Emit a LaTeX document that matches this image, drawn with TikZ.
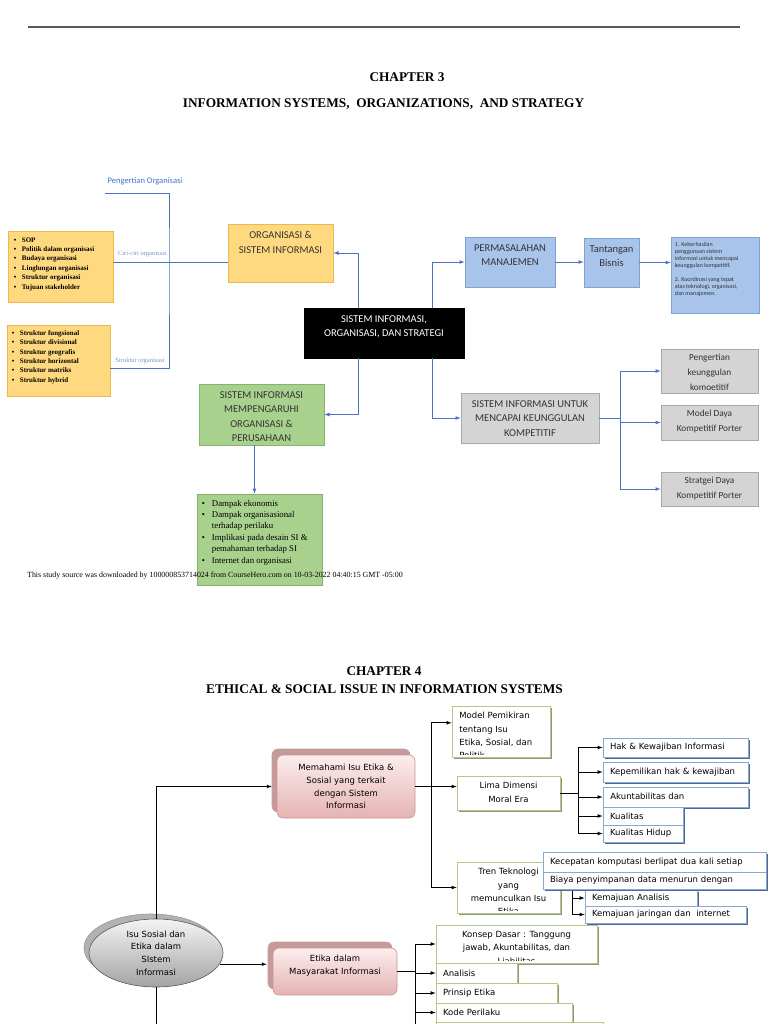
\documentclass[tikz,border=0pt]{standalone}
\usepackage{fontspec}
\setmainfont{Liberation Serif}
\newfontfamily\calibri{Carlito}
\newfontfamily\verdana{DejaVu Sans}
\usepackage{tikz}
\usetikzlibrary{arrows, positioning, shapes.geometric, shadows}

\definecolor{garisbiru}{HTML}{4A74C2}
\definecolor{kuning}{HTML}{FFD97F}
\definecolor{tepikuning}{HTML}{EDB94E}
\definecolor{biru}{HTML}{A9C4EB}
\definecolor{tepibiru}{HTML}{7FA1D4}
\definecolor{hijau}{HTML}{A9D18E}
\definecolor{tepihijau}{HTML}{88B36B}
\definecolor{abu}{HTML}{D4D4D4}
\definecolor{tepiabu}{HTML}{A9A9A9}
\definecolor{teksbiru}{HTML}{4472C4}
\definecolor{teksabu}{HTML}{7A93C9}
\definecolor{merahatas}{HTML}{FCEDED}
\definecolor{merahbawah}{HTML}{E6B3B3}
\definecolor{tepimerah}{HTML}{C99494}
\definecolor{bayangmerah}{HTML}{C49A9B}
\definecolor{abuatas}{HTML}{F4F4F4}
\definecolor{abubawah}{HTML}{A3A3A3}
\definecolor{tepihijau4}{HTML}{B3C98A}
\definecolor{bayanghijau}{HTML}{8E9878}
\definecolor{tepibiru4}{HTML}{8AA8D2}
\definecolor{bayangbiru}{HTML}{4D6A95}

\newcommand{\titik}[1][8pt]{\makebox[#1][l]{\textbullet}}

\tikzstyle{judul} = [inner sep=0pt, font=\bfseries\fontsize{13.3}{16}\selectfont]
\tikzstyle{kotak} = [rectangle, inner sep=0pt, line width=0.6pt]
\tikzstyle{kuningbox} = [kotak, fill=kuning, draw=tepikuning]
\tikzstyle{birubox} = [kotak, fill=biru, draw=tepibiru]
\tikzstyle{hijaubox} = [kotak, fill=hijau, draw=tepihijau]
\tikzstyle{abubox} = [kotak, fill=abu, draw=tepiabu]
\tikzstyle{hitambox} = [kotak, fill=black, draw=black]
\tikzstyle{isi} = [inner sep=0pt, align=center, text=black!80, font=\calibri\fontsize{10.5}{14.5}\selectfont]
\tikzstyle{isikecil} = [isi, font=\calibri\fontsize{9.3}{15}\selectfont]
\tikzstyle{isicatatan} = [inner sep=0pt, align=left, text=black!80, font=\calibri\fontsize{6}{7}\selectfont]
\tikzstyle{daftar} = [inner sep=0pt, align=left, font=\bfseries\fontsize{7}{9.4}\selectfont]
\tikzstyle{daftarhijau} = [inner sep=0pt, align=left, font=\fontsize{8.8}{11.4}\selectfont]
\tikzstyle{labelbiru} = [inner sep=0pt, text=teksbiru, font=\calibri\fontsize{8.5}{10}\selectfont]
\tikzstyle{labelkecil} = [inner sep=0pt, text=teksabu, font=\fontsize{6.5}{8}\selectfont]
\tikzstyle{catatankaki} = [inner sep=0pt, font=\fontsize{7.9}{9}\selectfont]
\tikzstyle{garis} = [draw=garisbiru, line width=0.8pt]
\tikzstyle{panah} = [garis, ->, >=latex]

\tikzstyle{isi4} = [inner sep=0pt, align=center, font=\verdana\fontsize{8.5}{12.7}\selectfont]
\tikzstyle{merahbox} = [rectangle, rounded corners=6pt, inner sep=0pt, draw=tepimerah, line width=0.6pt, top color=merahatas, bottom color=merahbawah, copy shadow={shadow xshift=-5pt, shadow yshift=6pt, fill=bayangmerah, draw=bayangmerah}]
\tikzstyle{elipsbox} = [ellipse, inner sep=0pt, draw=black!65, line width=0.6pt, top color=abuatas, bottom color=abubawah, copy shadow={shadow xshift=-5pt, shadow yshift=5pt, fill=black!30, draw=black!40}]
\tikzstyle{putihbox} = [rectangle, inner sep=0pt, inner xsep=7pt, fill=white, line width=0.8pt, align=left, font=\verdana\fontsize{8.5}{12}\selectfont]
\tikzstyle{hijau4box} = [putihbox, draw=tepihijau4, drop shadow={shadow xshift=1.6pt, shadow yshift=-1.6pt, fill=bayanghijau, opacity=1}]
\tikzstyle{biru4box} = [putihbox, draw=tepibiru4, drop shadow={shadow xshift=1.6pt, shadow yshift=-1.6pt, fill=bayangbiru, opacity=1}]
\tikzstyle{garis4} = [draw=black, line width=0.7pt]
\tikzstyle{panah4} = [garis4, ->, >=latex]
\tikzstyle{isipotong} = [isi4, minimum width=0pt, minimum height=0pt, font=\verdana\fontsize{8.5}{13.3}\selectfont]

% teks yang terpotong oleh tepi kotak
\tikzset{potongkiri/.style 2 args={path picture={\clip ([yshift=3pt]path picture bounding box.south west) rectangle (path picture bounding box.north east);
  \node (#1) [isipotong, align=left, anchor=north west] at ([shift={(7pt,-6pt)}]path picture bounding box.north west) {#2};}}}
\tikzset{potongtengah/.style 2 args={path picture={\clip ([yshift=3pt]path picture bounding box.south west) rectangle (path picture bounding box.north east);
  \node (#1) [isipotong, anchor=north] at ([yshift=-6pt]path picture bounding box.north) {#2};}}}

\begin{document}
\begin{tikzpicture}[x=1pt, y=-1pt]
\useasboundingbox (0,0) rectangle (768,1024);
\draw[black!65, line width=1.2pt] (28,27) -- (740,27);

% ---------------- Chapter 3
\node (bab3) [judul] at (407,77) {CHAPTER 3};
\node (judul3) [judul] at (383.5,104) {INFORMATION SYSTEMS,\ \ ORGANIZATIONS,\ \ AND STRATEGY};

\node (pengertian) [labelbiru] at (145,181) {Pengertian Organisasi};
\node (ciri) [kuningbox, minimum width=105pt, minimum height=71pt] at (60.5,266.5) {};
\node (ciritxt) [daftar, below right=6.5pt and 6pt of ciri.north west] {\titik SOP\\ \titik Politik dalam organisasi\\ \titik Budaya organisasi\\ \titik Linglungan organisasi\\ \titik Struktur organisasi\\ \titik Tujuan stakeholder};
\node (struktur) [kuningbox, minimum width=103pt, minimum height=71pt] at (58.5,360.5) {};
\node (strukturtxt) [daftar, below right=5.5pt and 5pt of struktur.north west] {\titik Struktur fungsional\\ \titik Struktur divisional\\ \titik Struktur geografis\\ \titik Struktur horizontal\\ \titik Struktur matriks\\ \titik Struktur hybrid};
\node (labelciri) [labelkecil] at (142.5,254) {Ciri-ciri organisasi};
\node (labelstruktur) [labelkecil] at (140,361) {Struktur organisasi};

\node (org) [kuningbox, minimum width=105pt, minimum height=58pt] at (280.5,253) {};
\node (orgtxt) [isi, below=7.5pt of org.north] {ORGANISASI \&\\SISTEM INFORMASI};
\node (pusat) [hitambox, minimum width=160pt, minimum height=50pt] at (384,333) {};
\node (pusattxt) [isi, text=white, below=7.5pt of pusat.north] {SISTEM INFORMASI,\\ORGANISASI, DAN STRATEGI};
\node (masalah) [birubox, minimum width=90pt, minimum height=50pt] at (510,262) {};
\node (masalahtxt) [isi, below=7.5pt of masalah.north] {PERMASALAHAN\\MANAJEMEN};
\node (tantangan) [birubox, minimum width=55pt, minimum height=49pt] at (611.5,262.5) {};
\node (tantangantxt) [isi, below=7.5pt of tantangan.north] {Tantangan\\Bisnis};
\node (catatan) [birubox, minimum width=88pt, minimum height=76pt] at (715,275) {};
\node (catatantxt) [isicatatan, below right=5pt and 4pt of catatan.north west] {1. Keberhasilan\\penggunaan sistem\\informasi untuk mencapai\\keunggulan kompetitif.\\[7pt]2. Koordinasi yang tepat\\atas teknologi, organisasi,\\dan manajemen.};
\node (pengaruh) [hijaubox, minimum width=125pt, minimum height=61pt] at (261.5,414.5) {};
\node (pengaruhtxt) [isi, below=7.5pt of pengaruh.north] {SISTEM INFORMASI\\MEMPENGARUHI\\ORGANISASI \&\\PERUSAHAAN};
\node (unggul) [abubox, minimum width=138pt, minimum height=50pt] at (530,418) {};
\node (unggultxt) [isi, below=7.5pt of unggul.north] {SISTEM INFORMASI UNTUK\\MENCAPAI KEUNGGULAN\\KOMPETITIF};
\node (definisi) [abubox, minimum width=97pt, minimum height=44pt] at (709.5,371) {};
\node (definisitxt) [isikecil, below=5.5pt of definisi.north] {Pengertian\\keunggulan\\komoetitif};
\node (porter) [abubox, minimum width=97pt, minimum height=35pt] at (709.5,422.5) {};
\node (portertxt) [isikecil, below=5.5pt of porter.north] {Model Daya\\Kompetitif Porter};
\node (strategi) [abubox, minimum width=97pt, minimum height=34pt] at (709.5,489) {};
\node (strategitxt) [isikecil, below=5.5pt of strategi.north] {Stratgei Daya\\Kompetitif Porter};
\node (dampak) [hijaubox, minimum width=125pt, minimum height=91pt] at (259.5,539.5) {};
\node (dampaktxt) [daftarhijau, below right=6pt and 5pt of dampak.north west] {\titik[10pt]Dampak ekonomis\\ \titik[10pt]Dampak organisasional\\ \hspace*{10pt}terhadap perilaku\\ \titik[10pt]Implikasi pada desain SI \&\\ \hspace*{10pt}pemahaman terhadap SI\\ \titik[10pt]Internet dan organisasi};
\node (unduh) [catatankaki] at (215,576) {This study source was downloaded by 100000853714024 from CourseHero.com on 10-03-2022 04:40:15 GMT -05:00};

\coordinate (kiriatas) at (105,193);
\coordinate (simpul) at (169,262);
\coordinate (kiribawah) at (110,368);
\draw[garis] (kiriatas) -| (simpul) |- (kiribawah);
\draw[garis] (simpul -| ciri.east) -- (simpul -| org.west);

\draw[panah] ([xshift=-26pt]pusat.north) |- (org.east);
\draw[panah] ([xshift=48pt]pusat.north) |- (masalah.west);
\draw[panah] ([xshift=-26pt]pusat.south) |- (pengaruh.east);
\draw[panah] ([xshift=48pt]pusat.south) |- (unggul.west);
\draw[panah] (masalah.east) -- (masalah.east -| tantangan.west);
\draw[panah] (tantangan.east) -- (tantangan.east -| catatan.west);
\draw[panah] ([xshift=-7pt]pengaruh.south) -- ([xshift=-7pt]pengaruh.south |- dampak.north);
\coordinate (cabang) at (620,418);
\draw[garis] (unggul.east) -- (cabang);
\draw[panah] (cabang) |- (definisi.west);
\draw[panah] (cabang) |- (porter.west);
\draw[panah] (cabang) |- (strategi.west);

% ---------------- Chapter 4
\node (bab4) [judul] at (384,671) {CHAPTER 4};
\node (judul4) [judul] at (384.5,689) {ETHICAL \& SOCIAL ISSUE IN INFORMATION SYSTEMS};

\node (isu) [elipsbox, isi4, minimum width=134pt, minimum height=68pt] at (156,953) {Isu Sosial dan\\Etika dalam\\SIstem\\Informasi};
\node (memahami) [merahbox, isi4, minimum width=138pt, minimum height=63pt] at (346,786.5) {Memahami Isu Etika \&\\Sosial yang terkait\\dengan Sistem\\Informasi};
\node (etika) [merahbox, minimum width=124pt, minimum height=47pt] at (335,971.5) {};
\node (etikatxt) [isi4, below=7pt of etika.north] {Etika dalam\\Masyarakat Informasi};

\node (model) [hijau4box, minimum width=98pt, minimum height=51pt, potongkiri={modeltxt}{Model Pemikiran\\tentang Isu\\Etika, Sosial, dan\\Politik}] at (501,731.5) {};
\node (lima) [hijau4box, minimum width=103pt, minimum height=34pt, potongtengah={limatxt}{Lima Dimensi\\Moral Era\\Informasi}] at (508.5,793) {};
\node (tren) [hijau4box, minimum width=103pt, minimum height=51pt, potongtengah={trentxt}{Tren Teknologi\\yang\\memunculkan Isu\\Etika}] at (508.5,887.5) {};

\node (hak) [biru4box, minimum height=19pt, text width=131pt] at (675.5,747.5) {Hak \& Kewajiban Informasi};
\node (milik) [biru4box, minimum height=20pt, text width=131pt] at (675.5,772) {Kepemilikan hak \& kewajiban};
\node (akun) [biru4box, minimum width=145pt, minimum height=20pt, potongkiri={akuntxt}{Akuntabilitas dan}] at (675.5,797) {};
\node (kualitas) [biru4box, minimum height=18pt, text width=66pt] at (643,816) {Kualitas};
\node (hidup) [biru4box, minimum height=17pt, text width=66pt] at (643,833.5) {Kualitas Hidup};

\node (analisis1) [biru4box, minimum height=16pt, text width=98pt] at (641,898) {Kemajuan Analisis};
\node (jaringan) [biru4box, minimum height=17pt, text width=147pt] at (665.5,914.5) {Kemajuan jaringan dan~ internet};
\path (tren.east) ++(12pt,0) coordinate (cabang3);
\draw[garis4] (tren.east) -- (cabang3);
\draw[panah4] (cabang3) |- (analisis1.west);
\draw[panah4] (cabang3) |- (jaringan.west);
\node (cepat) [biru4box, minimum height=20pt, text width=209pt] at (654.5,862) {Kecepatan komputasi berlipat dua kali setiap};
\node (biaya) [biru4box, minimum height=17pt, text width=209pt] at (654.5,880.5) {Biaya penyimpanan data menurun dengan};

\node (konsep) [hijau4box, minimum width=161pt, minimum height=38pt, potongtengah={konseptxt}{Konsep Dasar : Tanggung\\jawab, Akuntabilitas, dan\\Liabilitas}] at (516.5,944) {};
\node (analisis) [hijau4box, minimum height=20pt, text width=67pt] at (476.5,973) {Analisis};
\node (prinsip) [hijau4box, minimum height=20pt, text width=107pt] at (496.5,993) {Prinsip Etika};
\node (kode) [hijau4box, minimum height=19pt, text width=122pt] at (504,1012.5) {Kode Perilaku};
\node (akhir) [hijau4box, minimum height=22pt, text width=153pt] at (519.5,1033) {};

\coordinate (memahamikiri) at ([xshift=-5pt]memahami.west);
\draw[panah4] (isu.north) |- (memahamikiri);
\coordinate (isubawah) at (156,1040);
\draw[garis4] (isu.south) -- (isubawah);
\coordinate (etikakiri) at ([xshift=-6pt]etika.west);
\draw[panah4] (isu.-10) -- (isu.-10 -| etikakiri);

\path (memahami.east) ++(16pt,0) coordinate (cabang1);
\draw[panah4] (memahami.east) -- (memahami.east -| lima.west);
\draw[panah4] (cabang1) |- (model.170);
\draw[panah4] (cabang1) |- (tren.west);

\path (lima.east) ++(18pt,0) coordinate (cabang2);
\draw[garis4] (lima.east) -- (cabang2);
\draw[panah4] (cabang2) |- (hak.west);
\draw[panah4] (cabang2) |- (milik.west);
\draw[panah4] (cabang2) |- (akun.west);
\draw[panah4] (cabang2) |- (kualitas.west);
\draw[panah4] (cabang2) |- (hidup.west);

\path (etika.east) ++(18pt,0) coordinate (cabang4);
\draw[garis4] (etika.east) -- (cabang4);
\draw[panah4] (cabang4) |- (konsep.west);
\draw[panah4] (cabang4) |- (analisis.west);
\draw[panah4] (cabang4) |- (prinsip.west);
\draw[panah4] (cabang4) |- (kode.west);
\draw[panah4] (cabang4) |- (akhir.west);
\end{tikzpicture}
\end{document}
